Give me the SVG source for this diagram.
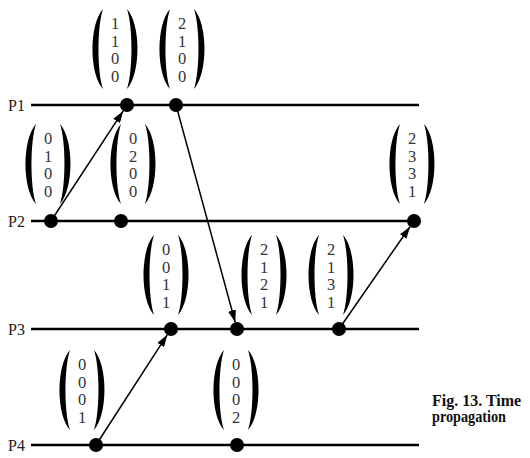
<svg xmlns="http://www.w3.org/2000/svg" xmlns:xlink="http://www.w3.org/1999/xlink" width="530" height="458" viewBox="0 0 530 458">
<style>
.proc{stroke:#000;stroke-width:2.5;fill:none}
.arr{stroke:#000;stroke-width:1.5;fill:none;marker-end:url(#ah)}
.dot{fill:#000}
.lbl{font-family:"Liberation Serif","Times New Roman",serif;font-size:16px;fill:#222}
.num{font-family:"Liberation Serif","Times New Roman",serif;font-size:16.5px;fill:#333;text-anchor:middle}
.cap{font-family:"Liberation Serif","Times New Roman",serif;font-size:16px;font-weight:bold;fill:#111}
.par{fill:#000}
</style>
<defs>
<marker id="ah" markerWidth="13" markerHeight="8" refX="12" refY="4" orient="auto" markerUnits="userSpaceOnUse">
<path d="M0,0 L12,4 L0,8 Z" fill="#000"/>
</marker>
<path id="lp" class="par" d="M-12,0 C-26,15 -26,65 -12,80 C-18,62 -18,18 -12,0 Z"/>
<path id="rp" class="par" d="M12,0 C26,15 26,65 12,80 C18,62 18,18 12,0 Z"/>
</defs>

<g id="processes">
<g id="P1"><text class="lbl" x="8" y="111">P1</text><line class="proc" x1="31" y1="105" x2="419" y2="105"/></g>
<g id="P2"><text class="lbl" x="8" y="227">P2</text><line class="proc" x1="31" y1="221" x2="419" y2="221"/></g>
<g id="P3"><text class="lbl" x="8" y="335">P3</text><line class="proc" x1="31" y1="329" x2="419" y2="329"/></g>
<g id="P4"><text class="lbl" x="8" y="451">P4</text><line class="proc" x1="31" y1="445" x2="419" y2="445"/></g>
</g>

<g id="connectors">
<line class="arr" x1="51" y1="221" x2="123.2" y2="110.9"/>
<line class="arr" x1="176" y1="105" x2="235.2" y2="322.2"/>
<line class="arr" x1="96" y1="445" x2="167.2" y2="334.9"/>
<line class="arr" x1="339" y1="329" x2="410" y2="226.7"/>
</g>

<g id="e11"><circle class="dot" cx="127" cy="105" r="7"/>
<use xlink:href="#lp" x="115" y="9"/><use xlink:href="#rp" x="115" y="9"/>
<text class="num" x="115" y="29">1</text><text class="num" x="115" y="46.5">1</text><text class="num" x="115" y="64">0</text><text class="num" x="115" y="81.5">0</text></g>

<g id="e12"><circle class="dot" cx="176" cy="105" r="7"/>
<use xlink:href="#lp" x="182" y="9"/><use xlink:href="#rp" x="182" y="9"/>
<text class="num" x="182" y="29">2</text><text class="num" x="182" y="46.5">1</text><text class="num" x="182" y="64">0</text><text class="num" x="182" y="81.5">0</text></g>

<g id="e21"><circle class="dot" cx="51" cy="221" r="7"/>
<use xlink:href="#lp" x="48" y="124"/><use xlink:href="#rp" x="48" y="124"/>
<text class="num" x="48" y="144">0</text><text class="num" x="48" y="161.5">1</text><text class="num" x="48" y="179">0</text><text class="num" x="48" y="196.5">0</text></g>

<g id="e22"><circle class="dot" cx="121" cy="221" r="7"/>
<use xlink:href="#lp" x="133" y="124"/><use xlink:href="#rp" x="133" y="124"/>
<text class="num" x="133" y="144">0</text><text class="num" x="133" y="161.5">2</text><text class="num" x="133" y="179">0</text><text class="num" x="133" y="196.5">0</text></g>

<g id="e23"><circle class="dot" cx="414" cy="221" r="7"/>
<use xlink:href="#lp" x="412" y="124"/><use xlink:href="#rp" x="412" y="124"/>
<text class="num" x="412" y="144">2</text><text class="num" x="412" y="161.5">3</text><text class="num" x="412" y="179">3</text><text class="num" x="412" y="196.5">1</text></g>

<g id="e31"><circle class="dot" cx="171" cy="329" r="7"/>
<use xlink:href="#lp" x="166" y="235"/><use xlink:href="#rp" x="166" y="235"/>
<text class="num" x="166" y="255">0</text><text class="num" x="166" y="272.5">0</text><text class="num" x="166" y="290">1</text><text class="num" x="166" y="307.5">1</text></g>

<g id="e32"><circle class="dot" cx="237" cy="329" r="7"/>
<use xlink:href="#lp" x="264" y="235"/><use xlink:href="#rp" x="264" y="235"/>
<text class="num" x="264" y="255">2</text><text class="num" x="264" y="272.5">1</text><text class="num" x="264" y="290">2</text><text class="num" x="264" y="307.5">1</text></g>

<g id="e33"><circle class="dot" cx="339" cy="329" r="7"/>
<use xlink:href="#lp" x="331" y="235"/><use xlink:href="#rp" x="331" y="235"/>
<text class="num" x="331" y="255">2</text><text class="num" x="331" y="272.5">1</text><text class="num" x="331" y="290">3</text><text class="num" x="331" y="307.5">1</text></g>

<g id="e41"><circle class="dot" cx="96" cy="445" r="7"/>
<use xlink:href="#lp" x="82" y="350"/><use xlink:href="#rp" x="82" y="350"/>
<text class="num" x="82" y="370">0</text><text class="num" x="82" y="387.5">0</text><text class="num" x="82" y="405">0</text><text class="num" x="82" y="422.5">1</text></g>

<g id="e42"><circle class="dot" cx="237" cy="445" r="7"/>
<use xlink:href="#lp" x="236" y="350"/><use xlink:href="#rp" x="236" y="350"/>
<text class="num" x="236" y="370">0</text><text class="num" x="236" y="387.5">0</text><text class="num" x="236" y="405">0</text><text class="num" x="236" y="422.5">2</text></g>

<g id="caption">
<text class="cap" x="432" y="406">Fig. 13. Time</text>
<text class="cap" x="432" y="422" textLength="74" lengthAdjust="spacingAndGlyphs">propagation</text>
</g>
</svg>
